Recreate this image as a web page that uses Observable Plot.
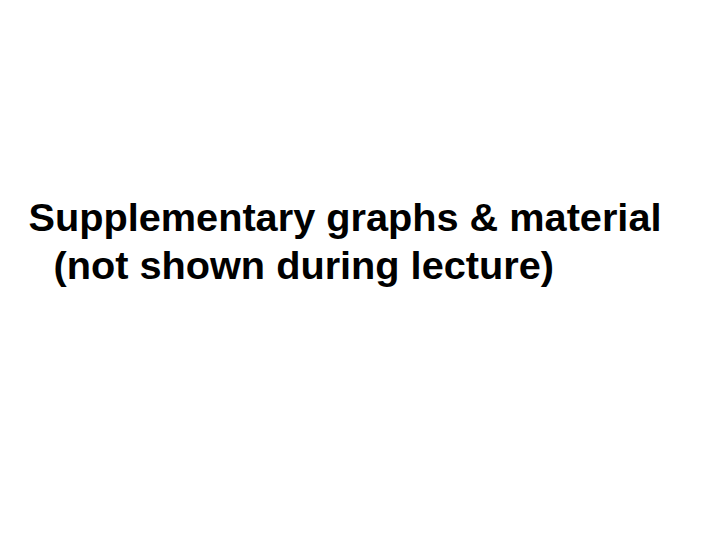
<!DOCTYPE html>
<html>
<head>
<meta charset="utf-8">
<script src="https://cdn.jsdelivr.net/npm/d3@7"></script>
<script src="https://cdn.jsdelivr.net/npm/@observablehq/plot@0.6"></script>
<style>
  html, body { margin: 0; padding: 0; background: #ffffff; }
  svg { display: block; }
</style>
</head>
<body>
<script>
// Slide text: a heading line and its continuation line
const lines = ["Supplementary graphs & material", "(not shown during lecture)"];
const lineIndex = [0, 1];

const fontStyle = {
  fontFamily: "'Liberation Sans', Arial, Helvetica, sans-serif",
  fontWeight: "bold",
  fontSize: 39.7,
  fill: "#000000",
  textAnchor: "start",
  lineAnchor: "bottom",
  frameAnchor: "left"
};

const chart = Plot.plot({
  width: 720,
  height: 540,
  margin: 0,
  style: { background: "#ffffff", overflow: "visible" },
  y: { type: "point", domain: lineIndex, range: [229.5, 277.5], padding: 0, axis: null },
  marks: [
    Plot.text([lines[0]], { ...fontStyle, y: [lineIndex[0]], text: d => d, dx: 28 }),
    Plot.text([lines[1]], { ...fontStyle, y: [lineIndex[1]], text: d => d, dx: 53 })
  ]
});
document.body.appendChild(chart);
</script>
</body>
</html>
